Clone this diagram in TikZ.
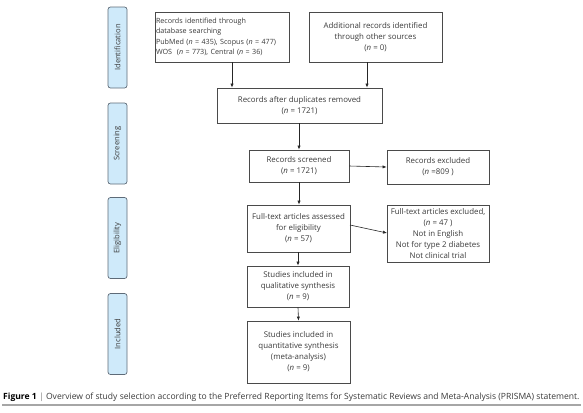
\documentclass[tikz,border=0pt]{standalone}
\usepackage{fontspec}
\setmainfont{Open Sans}
\usetikzlibrary{arrows.meta}
\definecolor{barfill}{HTML}{CFEAFA}
\definecolor{bardraw}{HTML}{5E6B78}
\definecolor{boxdraw}{HTML}{4A4A4A}
\definecolor{txt}{HTML}{3A3A3A}
\begin{document}
\begin{tikzpicture}[x=1bp,y=-1bp,
  box/.style={draw=boxdraw, line width=0.7bp, inner sep=1bp, align=center, text=txt,
    font=\fontsize{7.9}{11}\selectfont},
  bar/.style={draw=bardraw, fill=barfill, rounded corners=2.5bp, line width=0.7bp,
    minimum width=19bp, minimum height=81bp, inner sep=0pt},
  barlabel/.style={rotate=90, text=txt, font=\fontsize{7.6}{9}\selectfont},
  arr/.style={draw=black!85, line width=0.6bp, -{Latex[length=4bp,width=3.2bp]}}]
\useasboundingbox (0,0) rectangle (583,412);
% side bars
\node[bar] (s1) at (117.5,47.5) {};
\node[barlabel] (l1) at (s1.center) {Identification};
\node[bar] (s2) at (117.5,143.5) {};
\node[barlabel] (l2) at (s2.center) {Screening};
\node[bar] (s3) at (117.5,238) {};
\node[barlabel] (l3) at (s3.center) {Eligibility};
\node[bar] (s4) at (117.5,334) {};
\node[barlabel] (l4) at (s4.center) {Included};
% boxes
\node[box, minimum width=134bp, minimum height=50bp, text width=132bp, align=left,
  font=\fontsize{7.2}{10.5}\selectfont] (b1) at (222,37)
 {Records identified through\\database searching\\PubMed (\textit{n} = 435), Scopus (\textit{n} = 477)\\WOS\ \ (\textit{n} = 773), Central (\textit{n} = 36)};
\node[box, minimum width=133bp, minimum height=50bp] (b2) at (375.5,37)
 {Additional records identified\\through other sources\\(\textit{n} = 0)};
\node[box, minimum width=165bp, minimum height=35bp] (b3) at (299.5,105.5)
 {Records after duplicates removed\\(\textit{n} = 1721)};
\node[box, minimum width=100bp, minimum height=32bp] (b4) at (299,166)
 {Records screened\\(\textit{n} = 1721)};
\node[box, minimum width=102bp, minimum height=34bp] (e1) at (438,167)
 {Records excluded\\(\textit{n} =809 )};
\node[box, minimum width=103bp, minimum height=47bp] (b5) at (298.5,228.5)
 {Full-text articles assessed\\for eligibility\\(\textit{n} = 57)};
\node[box, minimum width=102bp, minimum height=57bp] (e2) at (438,233.5)
 {Full-text articles excluded,\\(\textit{n} = 47 )\\Not in English\\Not for type 2 diabetes\\Not clinical trial};
\node[box, minimum width=102bp, minimum height=41bp] (b6) at (298,286.5)
 {Studies included in\\qualitative synthesis\\(\textit{n} = 9)};
\node[box, minimum width=103bp, minimum height=62bp] (b7) at (298.5,352)
 {Studies included in\\quantitative synthesis\\(meta-analysis)\\(\textit{n} = 9)};
% connector anchors
\coordinate (c1) at (232,0);
\coordinate (c2) at (367,0);
\coordinate (c3) at (299,0);
\coordinate (c4) at (350,225);
\coordinate (c5) at (387,233);
\draw[arr] (b1.south -| c1) -- (b3.north -| c1);
\draw[arr] (b2.south -| c2) -- (b3.north -| c2);
\draw[arr] (b3.south -| c3) -- (b4.north -| c3);
\draw[arr] (b4.east) -- (e1.west);
\draw[arr] (b4.south -| c3) -- (b5.north -| c3);
\draw[arr] (c4) -- (c5);
\draw[arr] (b5.south -| b6) -- (b6.north);
\draw[arr] (b6.south) -- (b7.north);
% caption
\node[anchor=west, inner sep=0pt, text=txt, font=\fontsize{8.6}{10}\selectfont] (cap) at (3,397)
 {\textbf{\color{black}Figure 1} {\color{gray}|} Overview of study selection according to the Preferred Reporting Items for Systematic Reviews and Meta-Analysis (PRISMA) statement.};
\coordinate (r1) at (2,405);
\coordinate (r2) at (581,405);
\draw[gray!70, line width=2.5bp] (r1) -- (r2);
\end{tikzpicture}
\end{document}
